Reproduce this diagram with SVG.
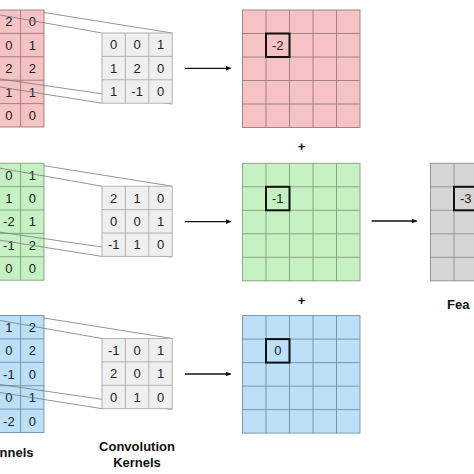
<svg xmlns="http://www.w3.org/2000/svg" width="474" height="474" viewBox="0 0 474 474">
<style>
text{font-family:"Liberation Sans",Arial,sans-serif;}
.d{font-size:13px;fill:#222;text-anchor:middle;}
.lbl{font-size:13px;font-weight:bold;fill:#111;}
.red{fill:#F5C3C3;stroke:#A07878;stroke-width:0.9;}
.grn{fill:#C6F1C2;stroke:#7FA07E;stroke-width:0.9;}
.blu{fill:#BCE0F7;stroke:#6F90A8;stroke-width:0.9;}
.gry{fill:#D5D5D5;stroke:#8E8E8E;stroke-width:0.9;}
.ker{fill:#EFEFEF;stroke:#ACACAC;stroke-width:0.9;}
.redl{stroke:#A07878;stroke-width:0.9;fill:none;}
.grnl{stroke:#7FA07E;stroke-width:0.9;fill:none;}
.blul{stroke:#6F90A8;stroke-width:0.9;fill:none;}
.gryl{stroke:#8E8E8E;stroke-width:0.9;fill:none;}
.kerl{stroke:#ACACAC;stroke-width:0.9;fill:none;}
.hl{fill:none;stroke:#111;stroke-width:2;}
.conn{stroke:#7A7A7A;stroke-width:0.8;fill:none;}
.arr{stroke:#111;stroke-width:1.3;fill:none;marker-end:url(#ah);}
</style>
<defs>
<marker id="ah" markerWidth="6" markerHeight="6" refX="5" refY="3" orient="auto" markerUnits="userSpaceOnUse">
<path d="M0,0.5 L6,3 L0,5.5 Z" fill="#111"/>
</marker>
</defs>

<!-- Input channels -->
<g id="input-red">
<rect class="red" x="-2.8" y="10" width="46.8" height="117"/>
<path class="redl" d="M20.6 10V127M-2.8 33.4H44M-2.8 56.8H44M-2.8 80.2H44M-2.8 103.6H44"/>
<text class="d" x="8.9" y="26.4">2</text><text class="d" x="32.3" y="26.4">0</text>
<text class="d" x="8.9" y="49.8">0</text><text class="d" x="32.3" y="49.8">1</text>
<text class="d" x="8.9" y="73.2">2</text><text class="d" x="32.3" y="73.2">2</text>
<text class="d" x="8.9" y="96.6">1</text><text class="d" x="32.3" y="96.6">1</text>
<text class="d" x="8.9" y="120">0</text><text class="d" x="32.3" y="120">0</text>
</g>
<g id="input-green" transform="translate(0,153.2)">
<rect class="grn" x="-2.8" y="10" width="46.8" height="117"/>
<path class="grnl" d="M20.6 10V127M-2.8 33.4H44M-2.8 56.8H44M-2.8 80.2H44M-2.8 103.6H44"/>
<text class="d" x="8.9" y="26.4">0</text><text class="d" x="32.3" y="26.4">1</text>
<text class="d" x="8.9" y="49.8">1</text><text class="d" x="32.3" y="49.8">0</text>
<text class="d" x="8.9" y="73.2">-2</text><text class="d" x="32.3" y="73.2">1</text>
<text class="d" x="8.9" y="96.6">-1</text><text class="d" x="32.3" y="96.6">2</text>
<text class="d" x="8.9" y="120">0</text><text class="d" x="32.3" y="120">0</text>
</g>
<g id="input-blue" transform="translate(0,305.5)">
<rect class="blu" x="-2.8" y="10" width="46.8" height="117"/>
<path class="blul" d="M20.6 10V127M-2.8 33.4H44M-2.8 56.8H44M-2.8 80.2H44M-2.8 103.6H44"/>
<text class="d" x="8.9" y="26.4">1</text><text class="d" x="32.3" y="26.4">2</text>
<text class="d" x="8.9" y="49.8">0</text><text class="d" x="32.3" y="49.8">2</text>
<text class="d" x="8.9" y="73.2">-1</text><text class="d" x="32.3" y="73.2">0</text>
<text class="d" x="8.9" y="96.6">0</text><text class="d" x="32.3" y="96.6">1</text>
<text class="d" x="8.9" y="120">-2</text><text class="d" x="32.3" y="120">0</text>
</g>

<!-- Connectors -->
<g id="connectors">
<path class="conn" d="M44 12.5L172.2 33M0 15L102 33M0 79L172.2 104M0 87L102 103.2"/>
<path class="conn" transform="translate(0,153.2)" d="M44 12.5L172.2 33M0 15L102 33M0 79L172.2 104M0 87L102 103.2"/>
<path class="conn" transform="translate(0,305.5)" d="M44 12.5L172.2 33M0 15L102 33M0 79L172.2 104M0 87L102 103.2"/>
<path class="arr" d="M185 68.3H230.5"/>
<path class="arr" d="M185 221.6H230.5"/>
<path class="arr" d="M185 374H230.5"/>
<path class="arr" d="M371.7 221H416.5"/>
</g>

<!-- Kernels -->
<g id="kernel-red">
<rect class="ker" x="102" y="33" width="70.2" height="70.2"/>
<path class="kerl" d="M125.4 33V103.2M148.8 33V103.2M102 56.4H172.2M102 79.8H172.2"/>
<text class="d" x="113.7" y="49.4">0</text><text class="d" x="137.1" y="49.4">0</text><text class="d" x="160.5" y="49.4">1</text>
<text class="d" x="113.7" y="72.8">1</text><text class="d" x="137.1" y="72.8">2</text><text class="d" x="160.5" y="72.8">0</text>
<text class="d" x="113.7" y="96.2">1</text><text class="d" x="137.1" y="96.2">-1</text><text class="d" x="160.5" y="96.2">0</text>
</g>
<g id="kernel-green" transform="translate(0,153.2)">
<rect class="ker" x="102" y="33" width="70.2" height="70.2"/>
<path class="kerl" d="M125.4 33V103.2M148.8 33V103.2M102 56.4H172.2M102 79.8H172.2"/>
<text class="d" x="113.7" y="49.4">2</text><text class="d" x="137.1" y="49.4">1</text><text class="d" x="160.5" y="49.4">0</text>
<text class="d" x="113.7" y="72.8">0</text><text class="d" x="137.1" y="72.8">0</text><text class="d" x="160.5" y="72.8">1</text>
<text class="d" x="113.7" y="96.2">-1</text><text class="d" x="137.1" y="96.2">1</text><text class="d" x="160.5" y="96.2">0</text>
</g>
<g id="kernel-blue" transform="translate(0,305.5)">
<rect class="ker" x="102" y="33" width="70.2" height="70.2"/>
<path class="kerl" d="M125.4 33V103.2M148.8 33V103.2M102 56.4H172.2M102 79.8H172.2"/>
<text class="d" x="113.7" y="49.4">-1</text><text class="d" x="137.1" y="49.4">0</text><text class="d" x="160.5" y="49.4">1</text>
<text class="d" x="113.7" y="72.8">2</text><text class="d" x="137.1" y="72.8">0</text><text class="d" x="160.5" y="72.8">1</text>
<text class="d" x="113.7" y="96.2">0</text><text class="d" x="137.1" y="96.2">1</text><text class="d" x="160.5" y="96.2">0</text>
</g>

<!-- Per-channel outputs -->
<g id="output-red">
<rect class="red" x="242.5" y="10" width="117.5" height="117.5"/>
<path class="redl" d="M266 10V127.5M289.5 10V127.5M313 10V127.5M336.5 10V127.5M242.5 33.5H360M242.5 57H360M242.5 80.5H360M242.5 104H360"/>
<rect class="hl" x="266" y="33.5" width="23.5" height="23.5"/>
<text class="d" x="277.75" y="49.9">-2</text>
</g>
<g id="output-green" transform="translate(0,153.3)">
<rect class="grn" x="242.5" y="10" width="117.5" height="117.5"/>
<path class="grnl" d="M266 10V127.5M289.5 10V127.5M313 10V127.5M336.5 10V127.5M242.5 33.5H360M242.5 57H360M242.5 80.5H360M242.5 104H360"/>
<rect class="hl" x="266" y="33.5" width="23.5" height="23.5"/>
<text class="d" x="277.75" y="49.9">-1</text>
</g>
<g id="output-blue" transform="translate(0,305.6)">
<rect class="blu" x="242.5" y="10" width="117.5" height="117.5"/>
<path class="blul" d="M266 10V127.5M289.5 10V127.5M313 10V127.5M336.5 10V127.5M242.5 33.5H360M242.5 57H360M242.5 80.5H360M242.5 104H360"/>
<rect class="hl" x="266" y="33.5" width="23.5" height="23.5"/>
<text class="d" x="277.75" y="49.9">0</text>
</g>

<!-- Feature map -->
<g id="feature-map" transform="translate(0,153.3)">
<rect class="gry" x="430.5" y="10" width="117.5" height="117.5"/>
<path class="gryl" d="M454 10V127.5M477.5 10V127.5M430.5 33.5H548M430.5 57H548M430.5 80.5H548M430.5 104H548"/>
<rect class="hl" x="454" y="33.5" width="23.5" height="23.5"/>
<text class="d" x="465.75" y="49.9">-3</text>
</g>

<g id="labels">
<text class="lbl" x="301.5" y="151" text-anchor="middle">+</text>
<text class="lbl" x="301.5" y="304.5" text-anchor="middle">+</text>
<text class="lbl" x="447" y="308.5">Fea</text>
<text class="lbl" x="137" y="450.5" text-anchor="middle">Convolution</text>
<text class="lbl" x="137" y="466.5" text-anchor="middle">Kernels</text>
<text class="lbl" x="33.5" y="457" text-anchor="end">nnels</text>
</g>
</svg>
